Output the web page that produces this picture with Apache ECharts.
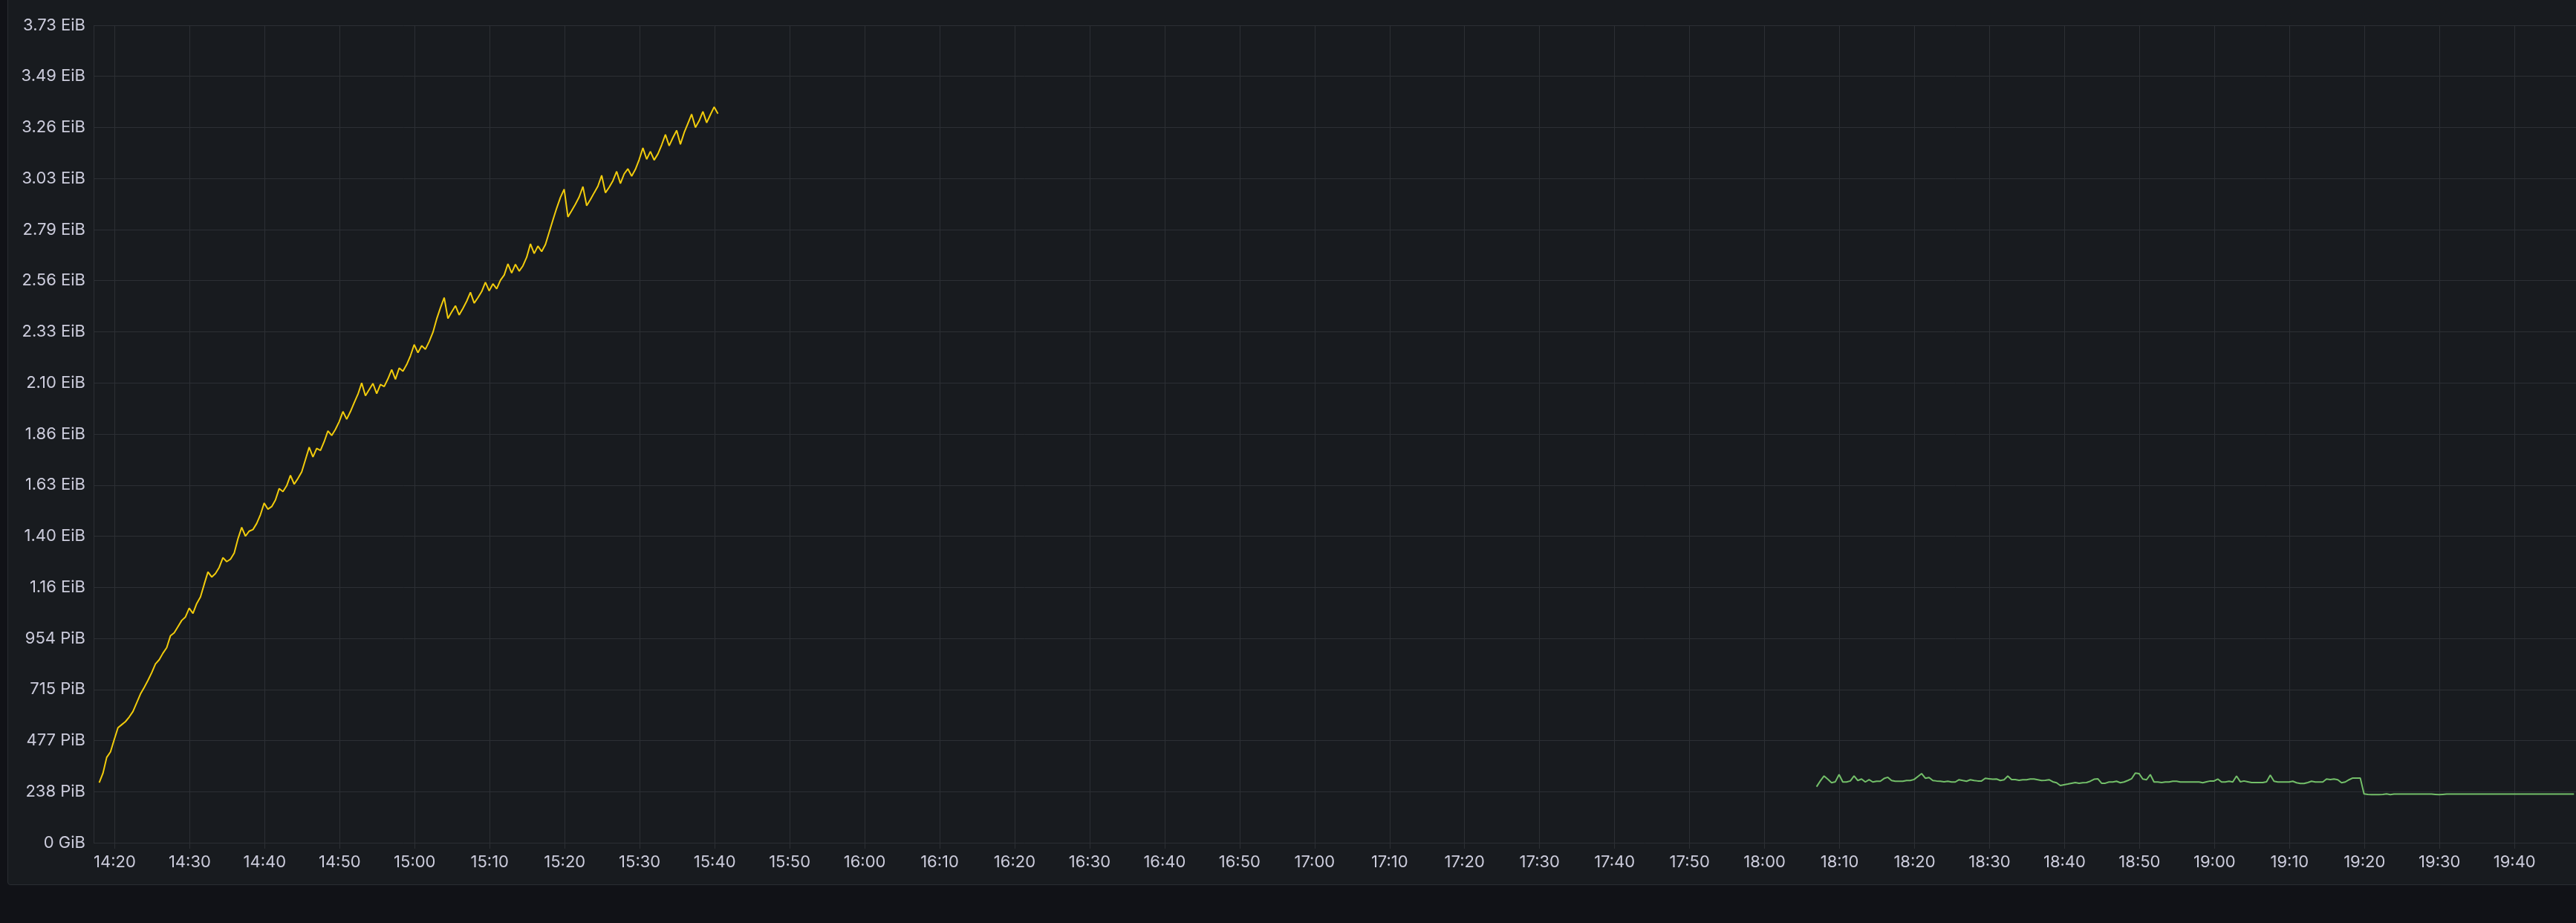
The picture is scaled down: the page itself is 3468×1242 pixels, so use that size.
<!DOCTYPE html>
<html>
<head>
<meta charset="utf-8">
<script src="https://cdn.jsdelivr.net/npm/echarts@6/dist/echarts.min.js"></script>
<style>
  html, body { margin: 0; padding: 0; background: #111217; width: 3468px; height: 1242px; overflow: hidden; }
  #panel { position: absolute; left: 10px; top: -12px; width: 3480px; height: 1203px; background: #181b1f; border: 1px solid #2a2d32; border-radius: 4px; box-sizing: border-box; }
  #chart { position: absolute; left: 0; top: 0; width: 3468px; height: 1242px; }
</style>
</head>
<body>
<div id="panel"></div>
<div id="chart"></div>
<script>
// ---- data (values in EiB) ----
const yellowStart = [14, 17, 56];   // first sample time (HH, mm, ss), 30 s step
const greenStart = [18, 6, 56];     // first sample time (HH, mm, ss), 30 s step
const stepSeconds = 30;

const yellowValues = [
  0.274,0.317,0.389,0.414,0.470,0.524,0.538,0.552,0.573,0.598,
  0.638,0.678,0.708,0.740,0.775,0.815,0.834,0.864,0.889,0.943,
  0.957,0.985,1.013,1.029,1.069,1.045,1.090,1.120,1.178,1.234,
  1.211,1.227,1.255,1.299,1.281,1.292,1.320,1.385,1.437,1.397,
  1.420,1.427,1.455,1.495,1.548,1.520,1.532,1.562,1.614,1.600,
  1.627,1.674,1.634,1.660,1.690,1.746,1.802,1.758,1.797,1.788,
  1.828,1.877,1.856,1.884,1.919,1.965,1.930,1.965,2.005,2.044,
  2.095,2.037,2.065,2.093,2.047,2.088,2.079,2.114,2.156,2.112,
  2.163,2.149,2.179,2.219,2.270,2.233,2.265,2.249,2.284,2.326,
  2.387,2.438,2.484,2.389,2.419,2.447,2.405,2.435,2.468,2.508,
  2.459,2.484,2.512,2.554,2.515,2.547,2.524,2.563,2.587,2.638,
  2.596,2.636,2.605,2.629,2.668,2.729,2.685,2.719,2.694,2.726,
  2.782,2.838,2.892,2.941,2.978,2.852,2.880,2.910,2.943,2.990,
  2.903,2.931,2.962,2.992,3.041,2.962,2.987,3.017,3.059,3.004,
  3.048,3.071,3.038,3.069,3.113,3.166,3.115,3.150,3.111,3.139,
  3.180,3.227,3.176,3.213,3.246,3.183,3.236,3.278,3.320,3.260,
  3.290,3.332,3.281,3.318,3.353,3.322
];

const greenValues = [
  0.2554,0.2815,0.3041,0.2892,0.2736,0.2780,0.3108,0.2768,0.2768,0.2815,
  0.3041,0.2836,0.2903,0.2768,0.2871,0.2768,0.2803,0.2803,0.2927,0.2983,
  0.2836,0.2803,0.2803,0.2803,0.2836,0.2836,0.2882,0.3017,0.3152,0.2938,
  0.2971,0.2836,0.2815,0.2803,0.2780,0.2803,0.2768,0.2768,0.2871,0.2836,
  0.2803,0.2871,0.2836,0.2815,0.2815,0.2938,0.2915,0.2892,0.2903,0.2836,
  0.2871,0.3041,0.2882,0.2882,0.2847,0.2871,0.2871,0.2903,0.2903,0.2871,
  0.2836,0.2847,0.2871,0.2780,0.2736,0.2610,0.2645,0.2678,0.2712,0.2745,
  0.2712,0.2736,0.2745,0.2803,0.2892,0.2915,0.2712,0.2712,0.2768,0.2768,
  0.2803,0.2736,0.2768,0.2836,0.2915,0.3176,0.3152,0.2903,0.2871,0.3108,
  0.2768,0.2768,0.2745,0.2768,0.2768,0.2803,0.2803,0.2768,0.2768,0.2768,
  0.2768,0.2768,0.2768,0.2736,0.2780,0.2815,0.2815,0.2903,0.2768,0.2768,
  0.2803,0.2768,0.3041,0.2780,0.2815,0.2780,0.2745,0.2745,0.2745,0.2745,
  0.2780,0.3085,0.2803,0.2768,0.2768,0.2768,0.2768,0.2803,0.2736,0.2701,
  0.2701,0.2745,0.2803,0.2768,0.2768,0.2768,0.2903,0.2882,0.2903,0.2871,
  0.2736,0.2768,0.2871,0.2950,0.2950,0.2950,0.2226,0.2205,0.2193,0.2193,
  0.2193,0.2205,0.2226,0.2193,0.2217,0.2217,0.2217,0.2217,0.2217,0.2217,
  0.2217,0.2217,0.2217,0.2217,0.2217,0.2205,0.2193,0.2205,0.2217,0.2217,
  0.2217,0.2217,0.2217,0.2217,0.2217,0.2217,0.2217,0.2217,0.2217,0.2217,
  0.2217,0.2217,0.2217,0.2217,0.2217,0.2217,0.2217,0.2217,0.2217,0.2217,
  0.2217,0.2217,0.2217,0.2217,0.2217,0.2217,0.2217,0.2217,0.2217,0.2217,
  0.2217,0.2217,0.2217
];

const xRange = [[14, 17, 11], [19, 48, 12]];
const yTickStep = 0.2328306;   // EiB between gridlines
const yTickCount = 16;

// ---- build ----
function t(hms) { return new Date(2024, 0, 1, hms[0], hms[1], hms[2]).getTime(); }
function pairs(start, vals) {
  const s = t(start);
  return vals.map((v, i) => [s + i * stepSeconds * 1000, v]);
}

function yLabel(v) {
  if (v < 1e-9) return '0 GiB';
  const pib = v * 1024;
  if (pib < 1000) return Math.round(pib) + ' PiB';
  return v.toFixed(2) + ' EiB';
}

const gridColor = '#2c2f34';
const textColor = '#ccccdc';
const font = 'Inter, Roboto, "Noto Sans", sans-serif';

const chart = echarts.init(document.getElementById('chart'), null, { renderer: 'canvas' });
chart.setOption({
  backgroundColor: 'transparent',
  animation: false,
  grid: { left: 126, right: 0, top: 34, bottom: 108, containLabel: false },
  xAxis: {
    type: 'time',
    min: t(xRange[0]),
    max: t(xRange[1]),
    splitNumber: 33,
    axisLine: { show: false },
    axisTick: { show: true, length: 8, lineStyle: { color: gridColor, width: 1 } },
    splitLine: { show: true, lineStyle: { color: gridColor, width: 1 } },
    axisLabel: {
      color: textColor, fontFamily: font, fontSize: 22, margin: 15,
      hideOverlap: false,
      formatter: '{HH}:{mm}'
    }
  },
  yAxis: {
    type: 'value',
    min: 0,
    max: yTickStep * yTickCount,
    interval: yTickStep,
    axisLine: { show: false },
    axisTick: { show: false },
    splitLine: { show: true, lineStyle: { color: gridColor, width: 1 } },
    axisLabel: { color: textColor, fontFamily: font, fontSize: 22, margin: 11, formatter: yLabel }
  },
  series: [
    {
      type: 'line', name: 'yellow', data: pairs(yellowStart, yellowValues),
      showSymbol: false, lineStyle: { color: '#F2CC0C', width: 2 }, itemStyle: { color: '#F2CC0C' }
    },
    {
      type: 'line', name: 'green', data: pairs(greenStart, greenValues),
      showSymbol: false, lineStyle: { color: '#73BF69', width: 2 }, itemStyle: { color: '#73BF69' }
    }
  ]
});
</script>
</body>
</html>
